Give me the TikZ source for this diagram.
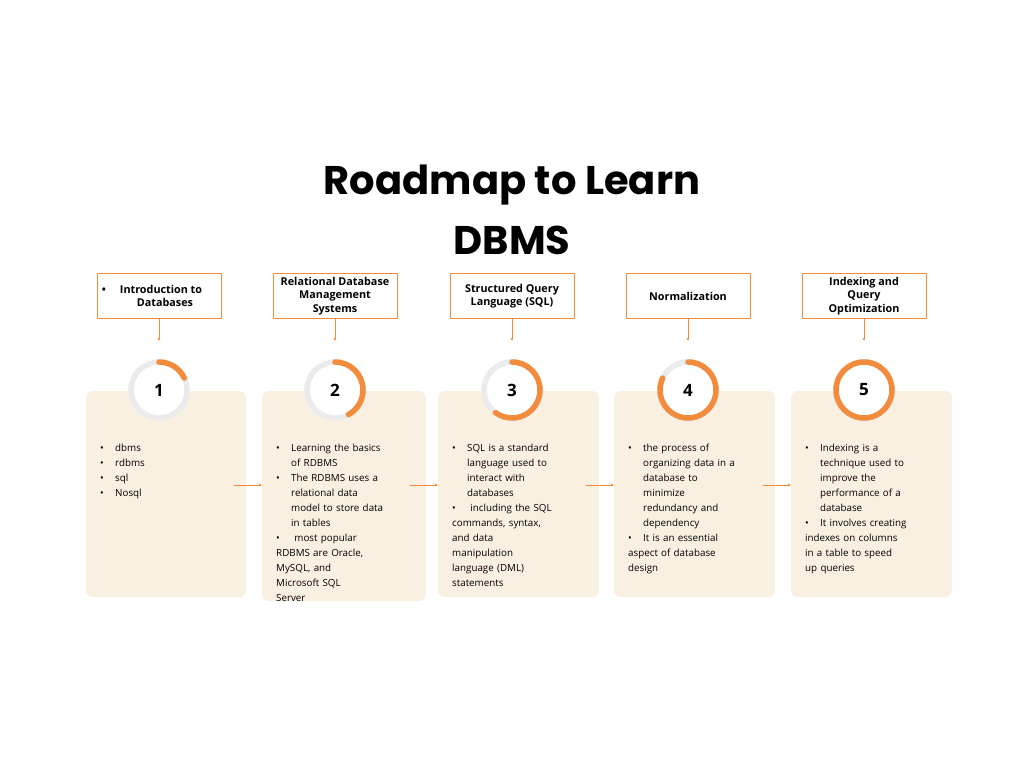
\documentclass[tikz,border=0pt]{standalone}
\usepackage{fontspec}
\usetikzlibrary{arrows.meta}
\setmainfont{Open Sans}
\newfontfamily\titlefont{Poppins}
\definecolor{org}{HTML}{F28C3C}
\definecolor{card}{HTML}{F9F0E2}
\definecolor{ring}{HTML}{EBEBEB}
\newcommand{\bl}[1]{\par\noindent\hangindent=15pt\hangafter=1\makebox[15pt][l]{\textbullet}#1}
\newcommand{\nl}{\hfil\break}
\begin{document}
\begin{tikzpicture}[x=1pt,y=-1pt,
  hdr/.style={draw=org,line width=0.8pt,minimum width=124pt,minimum height=45pt,inner sep=1pt,align=center,font=\fontsize{10.8}{13.5}\selectfont\bfseries},
  crd/.style={fill=card,rounded corners=7pt},
  txt/.style={anchor=north west,inner sep=0pt,text width=#1,font=\fontsize{9.8}{15}\selectfont},
  num/.style={font=\fontsize{17}{20}\selectfont\bfseries},
  arr/.style={draw=org,line width=0.5pt,-{Latex[length=3pt,width=3pt]}}]
\useasboundingbox (0,0) rectangle (1024,768);
\fill[white] (0,0) rectangle (1024,768);
\node[font=\titlefont\fontsize{40}{60}\selectfont\bfseries,align=center] (title) at (512,210) {Roadmap to Learn\\DBMS};
% cards
\fill[crd] (86,391) rectangle (246,597);
\fill[crd] (262,391) rectangle (426,601);
\fill[crd] (438,391) rectangle (599,597);
\fill[crd] (614,391) rectangle (775,597);
\fill[crd] (791,391) rectangle (952,597);
\coordinate (c1r) at (234,485); \coordinate (c2l) at (262,485);
\coordinate (c2r) at (410,485); \coordinate (c3l) at (438,485);
\coordinate (c3r) at (586,485); \coordinate (c4l) at (614,485);
\coordinate (c4r) at (763,485); \coordinate (c5l) at (791,485);
\draw[arr] (c1r) -- (c2l);
\draw[arr] (c2r) -- (c3l);
\draw[arr] (c3r) -- (c4l);
\draw[arr] (c4r) -- (c5l);
% headers
\node[hdr] (h1) at (159,296) {\hspace*{-14pt}\textbullet\hspace{14pt}Introduction to\\\hspace*{12pt}Databases};
\node[hdr] (h2) at (335,296) {Relational Database\\Management\\Systems};
\node[hdr] (h3) at (512,296) {Structured Query\\Language (SQL)};
\node[hdr] (h4) at (688,296) {Normalization};
\node[hdr] (h5) at (864,296) {Indexing and\\Query\\Optimization};
% rings
\foreach \i/\x/\f in {1/159/0.18,2/335/0.42,3/512/0.6,4/688/0.82,5/864/1.0}{
  \fill[white] (\x,390) circle (29);
  \draw[ring,line width=5.5pt] (\x,390) circle (28);
  \draw[org,line width=5.5pt,line cap=round] (\x,362) arc[start angle=-90,end angle={-90+359.9*\f},radius=28];
  \node[num] (n\i) at (\x,390) {\i};
  \coordinate (t\i) at (\x,341);
  \draw[arr] (h\i.south) -- (t\i);
}
% texts
\node[txt=130pt] (b1) at (100,436) {\bl{dbms}\bl{rdbms}\bl{sql}\bl{Nosql}};
\node[txt=130pt] (b2) at (276,436) {\bl{Learning the basics\nl of RDBMS}\bl{The RDBMS uses a\nl relational data\nl model to store data\nl in tables}\bl{\ most popular\nl RDBMS are Oracle,\nl MySQL, and\nl Microsoft SQL\nl Server}};
\node[txt=130pt] (b3) at (452,436) {\bl{SQL is a standard\nl language used to\nl interact with\nl databases}\bl{\ including the SQL\nl commands, syntax,\nl and data\nl manipulation\nl language (DML)\nl statements}};
\node[txt=140pt] (b4) at (628,436) {\bl{the process of\nl organizing data in a\nl database to\nl minimize\nl redundancy and\nl dependency}\bl{It is an essential\nl aspect of database\nl design}};
\node[txt=140pt] (b5) at (805,436) {\bl{Indexing is a\nl technique used to\nl improve the\nl performance of a\nl database}\bl{It involves creating\nl indexes on columns\nl in a table to speed\nl up queries}};
\end{tikzpicture}
\end{document}
